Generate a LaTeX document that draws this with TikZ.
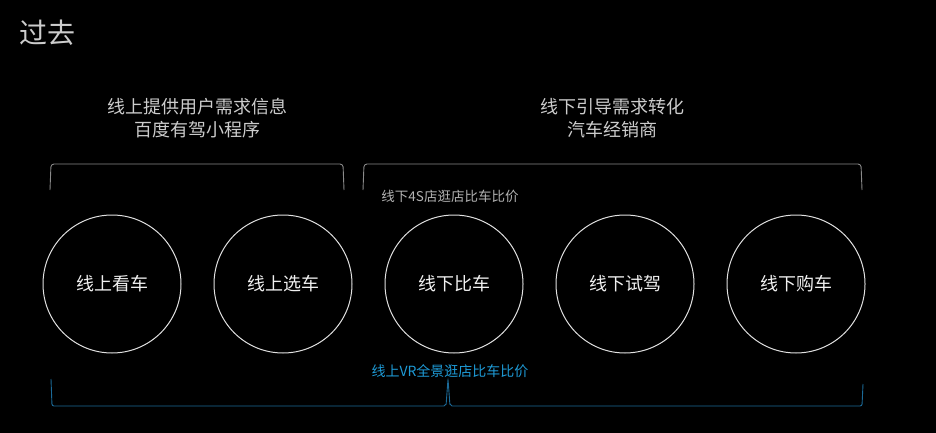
\documentclass[tikz,border=0pt]{standalone}
\usepackage{fontspec}
\setmainfont{Noto Sans CJK SC}
\usetikzlibrary{positioning}
\definecolor{bgblack}{HTML}{000000}
\definecolor{lightgrey}{HTML}{CCCCCC}
\definecolor{bracegrey}{HTML}{8A8A8A}
\definecolor{vrblue}{HTML}{1E9BD7}
\definecolor{braceblue}{HTML}{1B6A98}
\begin{document}
\begin{tikzpicture}[x=1pt, y=-1pt, node distance=171pt, font=\fontsize{18}{23}\selectfont]
        \tikzstyle{stage} = [circle, draw=white!88!black, line width=1pt, text=white!94!black,
                            minimum size=138pt, inner sep=0pt]
        \tikzstyle{header} = [text=lightgrey, align=center, inner sep=0pt]
        \tikzstyle{brace} = [draw=bracegrey, line width=0.9pt, rounded corners=3pt]

        % fond
        \fill[bgblack] (0,0) rectangle (936,433);
        \useasboundingbox (0,0) rectangle (936,433);

        % titre et en-tetes
        \node[text=lightgrey, font=\fontsize{28}{32}\selectfont, anchor=west] (title) at (16,33) {过去};
        \node[header] (online) at (197,118) {线上提供用户需求信息\\百度有驾小程序};
        \node[header] (offline) at (612,118) {线下引导需求转化\\汽车经销商};

        % accolades du haut
        \draw[brace] (50,190) -- (51,164) -- (343,164) -- (344,190);
        \draw[brace] (363,190) -- (364,164) -- (861,164) -- (862,190);
        \node[text=white!70!black, font=\fontsize{13.5}{16}\selectfont] (shop) at (450,196) {线下4S店逛店比车比价};

        % etapes
        \node[stage] (look) at (112,284) {线上看车};
        \node[stage, right of = look] (pick) {线上选车};
        \node[stage, right of = pick] (compare) {线下比车};
        \node[stage, right of = compare] (drive) {线下试驾};
        \node[stage, right of = drive] (buy) {线下购车};

        % accolade du bas
        \node[text=vrblue, font=\fontsize{14}{16}\selectfont] (vr) at (450,371) {线上VR全景逛店比车比价};
        \draw[draw=braceblue, line width=0.9pt, rounded corners=2pt]
            (51,379) -- (52,406) -- (446,406) -- (448,379) -- (450,406) -- (862,406) -- (863,384);
    \end{tikzpicture}
\end{document}
